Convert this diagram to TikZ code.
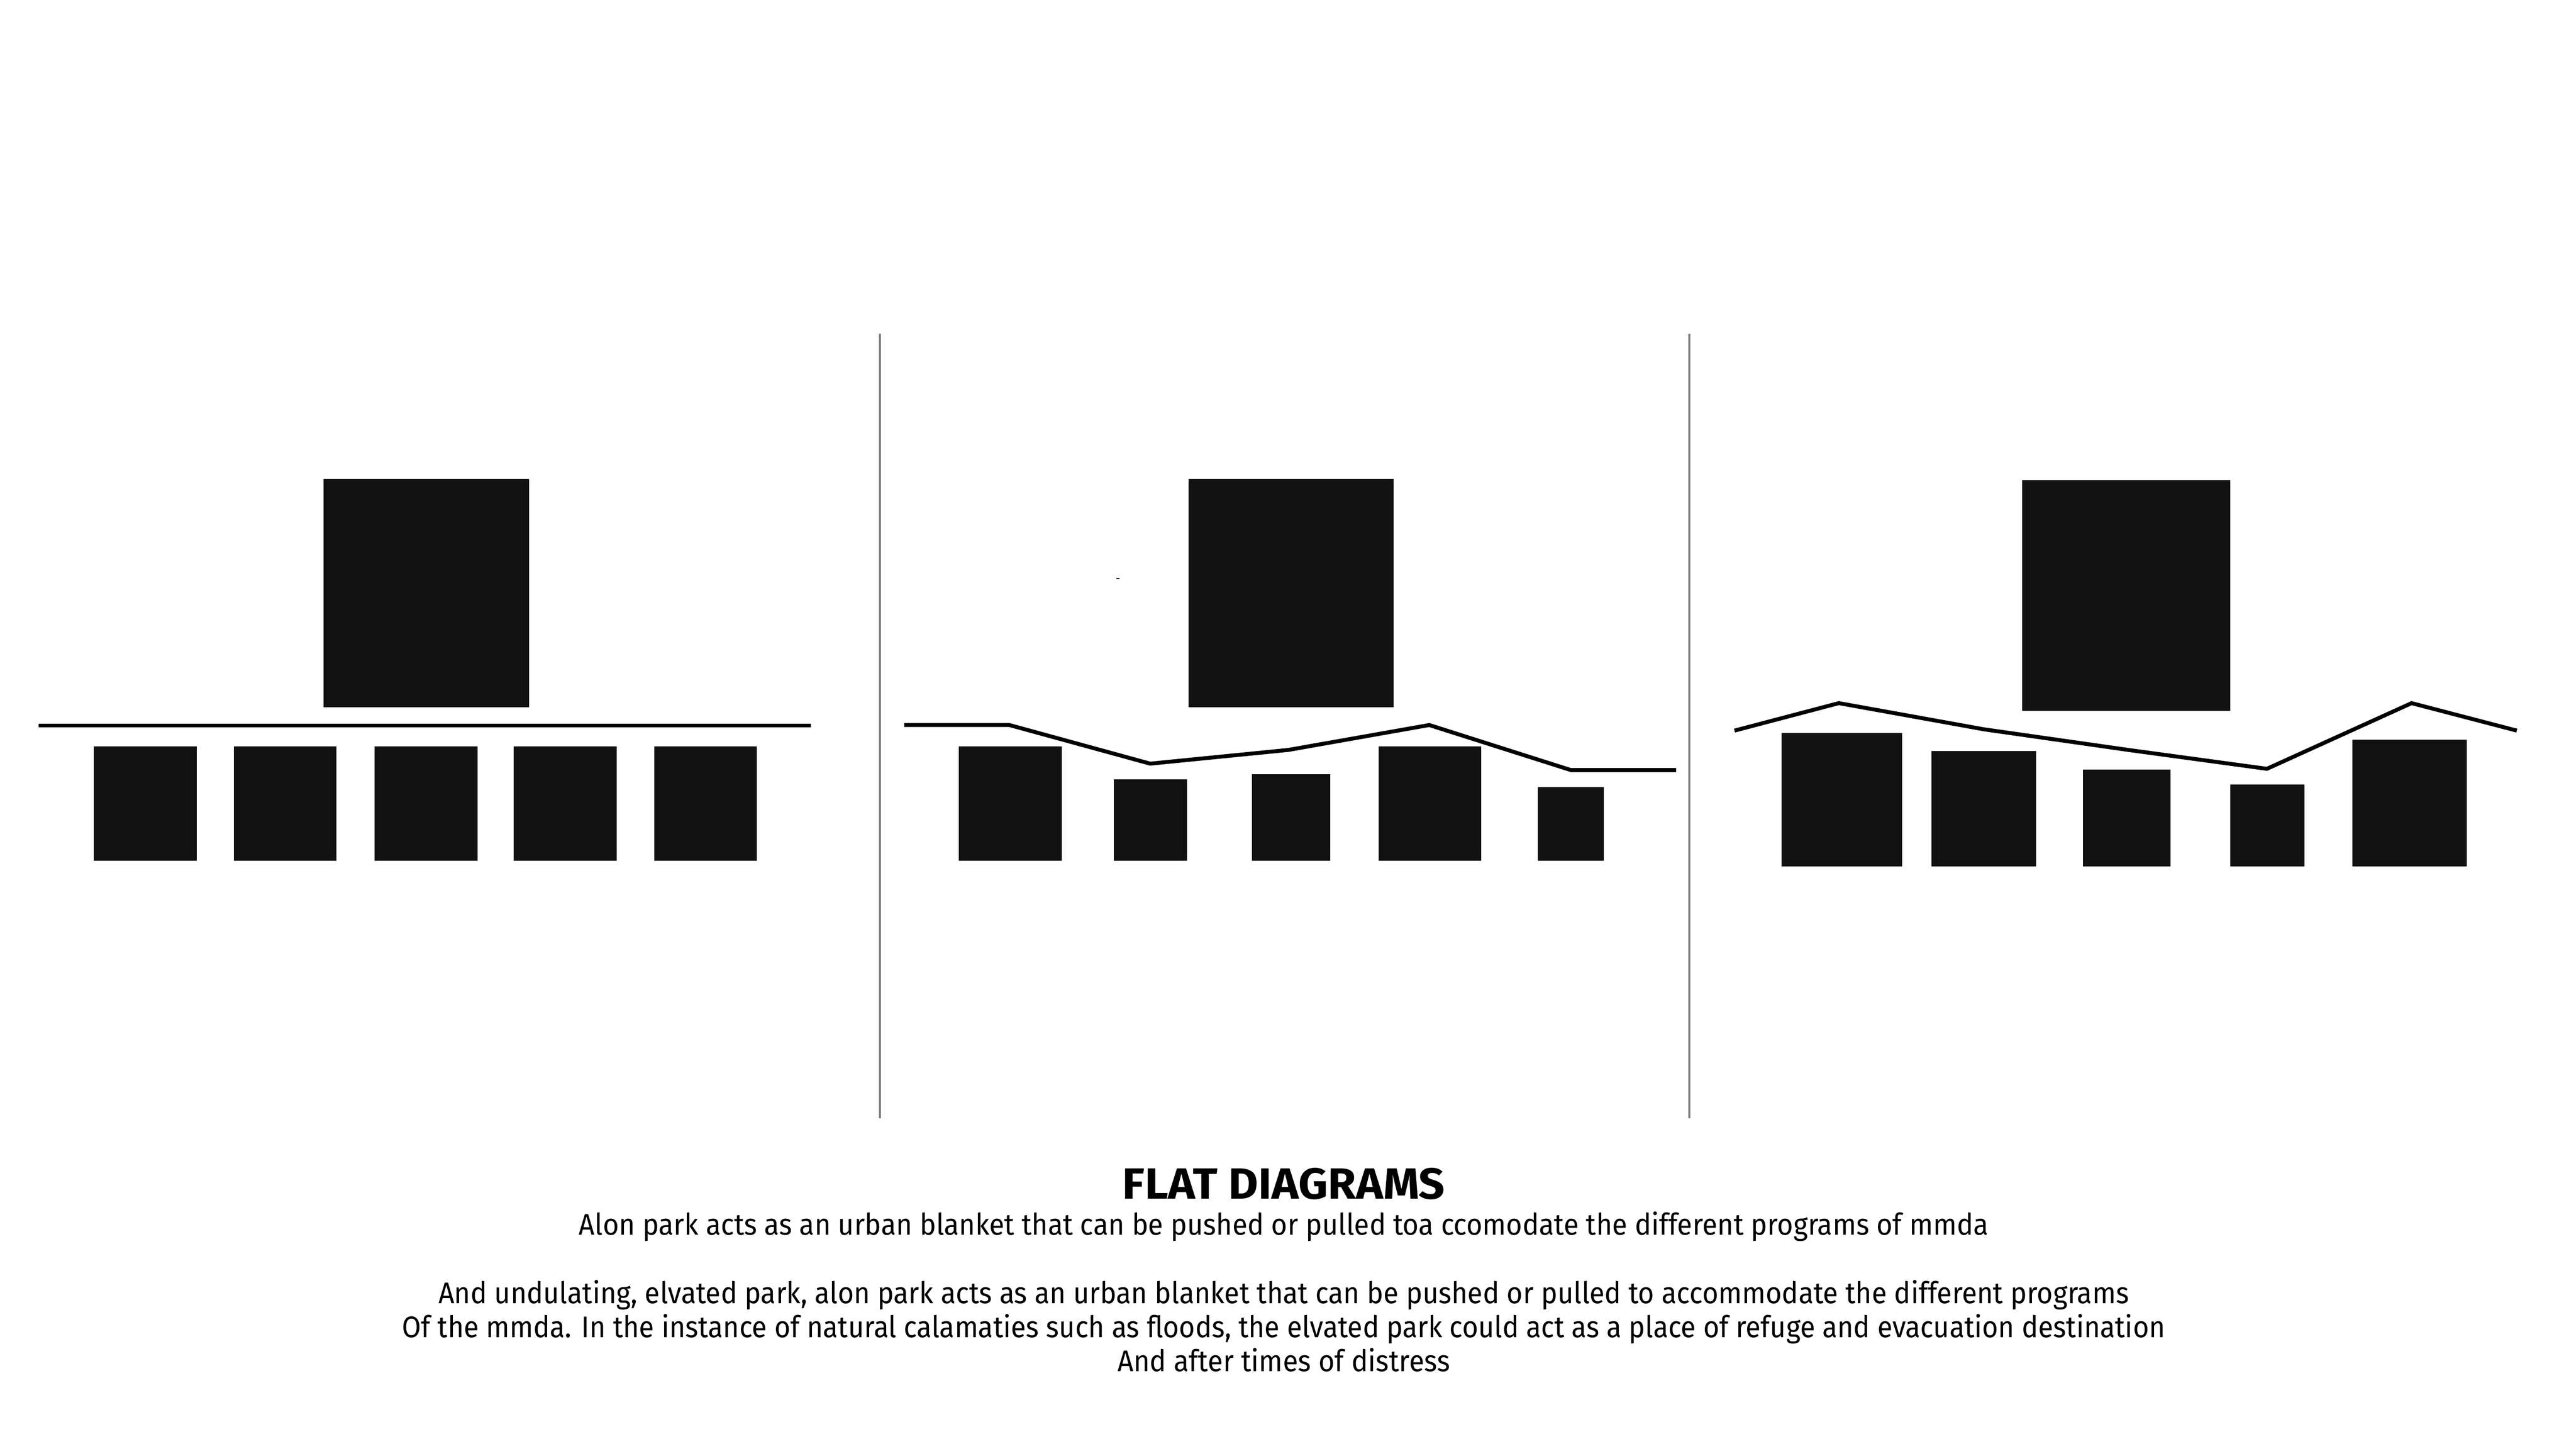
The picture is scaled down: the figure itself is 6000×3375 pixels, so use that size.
\documentclass[tikz,border=0pt]{standalone}
\usepackage{fontspec}
\setmainfont{Fira Sans}
\usepackage{graphicx}
\definecolor{blockcol}{HTML}{111111}
\definecolor{sepcol}{HTML}{808080}
\tikzset{
  blockfill/.style={fill=blockcol},
  blanket/.style={draw=black, line width=2.6pt, line join=miter, line cap=butt},
  sepline/.style={draw=sepcol, line width=1.45pt},
  bodytext/.style={font=\fontsize{19.8}{24}\selectfont, anchor=base, inner sep=0pt},
  titletext/.style={font=\fontsize{28.9}{34}\selectfont\bfseries, anchor=base, inner sep=0pt}
}
\begin{document}
\begin{tikzpicture}[x=0.01cm,y=-0.01cm]
\useasboundingbox (0,0) rectangle (6000,3375);
\fill[white] (0,0) rectangle (6000,3375);

% separators
\draw[sepline] (2050,778) -- (2050,2605);
\draw[sepline] (3935,778) -- (3935,2605);

% ---------- panel 1 ----------
\fill[blockfill] (753,1116) rectangle (1232,1647);
\draw[blanket] (90,1690) -- (1889,1690);
\fill[blockfill] (218,1739) rectangle (458,2005);
\fill[blockfill] (545,1739) rectangle (784,2005);
\fill[blockfill] (872,1739) rectangle (1112,2005);
\fill[blockfill] (1196,1739) rectangle (1436,2005);
\fill[blockfill] (1524,1739) rectangle (1763,2005);

% ---------- panel 2 ----------
\fill[blockfill] (2768,1116) rectangle (3246,1647);
\fill[blockfill] (2600,1346) rectangle (2608,1349);
\coordinate (b1) at (2106,1689);
\coordinate (b2) at (2351,1689);
\coordinate (b3) at (2679,1779);
\coordinate (b4) at (3001,1747);
\coordinate (b5) at (3329,1689);
\coordinate (b6) at (3659,1794);
\coordinate (b7) at (3904,1794);
\draw[blanket] (b1) -- (b2) -- (b3) -- (b4) -- (b5) -- (b6) -- (b7);
\fill[blockfill] (2233,1739) rectangle (2473,2005);
\fill[blockfill] (2594,1815) rectangle (2765,2005);
\fill[blockfill] (2916,1804) rectangle (3098,2005);
\fill[blockfill] (3211,1739) rectangle (3450,2005);
\fill[blockfill] (3582,1834) rectangle (3735,2005);

% ---------- panel 3 ----------
\fill[blockfill] (4710,1118) rectangle (5195,1656);
\coordinate (c1) at (4040,1702);
\coordinate (c2) at (4283,1638);
\coordinate (c3) at (4621,1699);
\coordinate (c4) at (4957,1747);
\coordinate (c5) at (5280,1791);
\coordinate (c6) at (5617,1638);
\coordinate (c7) at (5862,1702);
\draw[blanket] (c1) -- (c2) -- (c3) -- (c4) -- (c5) -- (c6) -- (c7);
\fill[blockfill] (4149,1707) rectangle (4430,2018);
\fill[blockfill] (4499,1749) rectangle (4742,2018);
\fill[blockfill] (4851,1793) rectangle (5055,2018);
\fill[blockfill] (5195,1828) rectangle (5367,2018);
\fill[blockfill] (5479,1723) rectangle (5746,2018);

% ---------- text ----------
\node[titletext] (title) at (2990,2793) {\resizebox{213.4pt}{\height}{FLAT DIAGRAMS}};
\node[bodytext] (l1) at (2990,2877) {\resizebox{933.5pt}{\height}{Alon park acts as an urban blanket that can be pushed or pulled toa ccomodate the different programs of mmda}};
\node[bodytext] (l2) at (2990,3037) {\resizebox{1119.6pt}{\height}{And undulating, elvated park, alon park acts as an urban blanket that can be pushed or pulled to accommodate the different programs}};
\node[bodytext] (l3) at (2990,3116) {\resizebox{1167.7pt}{\height}{Of the mmda. In the instance of natural calamaties such as floods, the elvated park could act as a place of refuge and evacuation destination}};
\node[bodytext] (l4) at (2990,3195) {\resizebox{220.2pt}{\height}{And after times of distress}};
\end{tikzpicture}
\end{document}
